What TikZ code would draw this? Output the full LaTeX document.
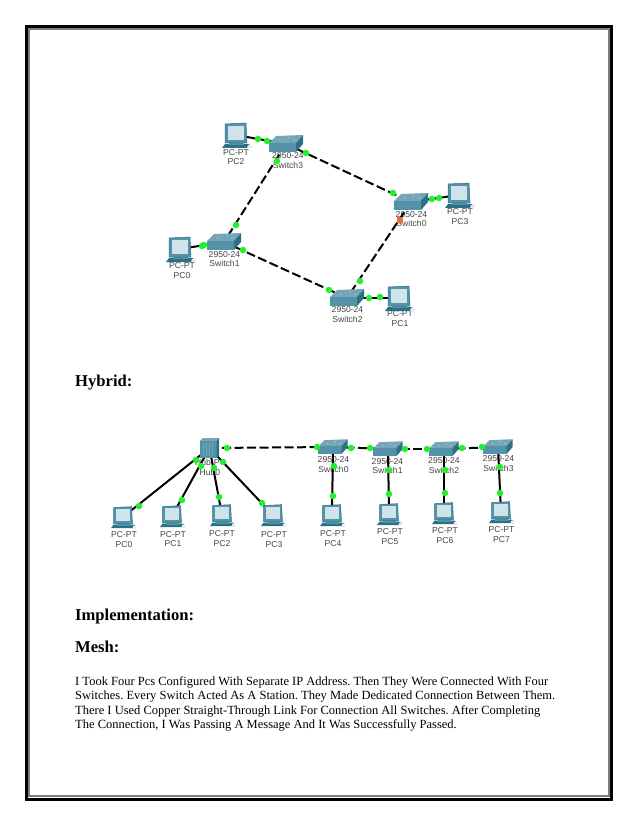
\documentclass[tikz,border=0pt]{standalone}
\usepackage{fontspec}
\setmainfont{Liberation Serif}
\setsansfont{Liberation Sans}
\usetikzlibrary{positioning}
\definecolor{portgreen}{RGB}{34,240,44}
\definecolor{portorange}{RGB}{240,110,50}
\definecolor{devtop}{RGB}{116,166,184}
\definecolor{devfront}{RGB}{84,146,168}
\definecolor{devside}{RGB}{44,112,134}
\definecolor{screenlight}{RGB}{208,226,234}
\definecolor{labelgray}{RGB}{70,70,70}
\definecolor{framegray}{RGB}{125,125,125}
\tikzset{
    pcicon/.pic={
        \fill[devside] (-14,13) -- (-11,9) -- (13,9) -- (15,13) -- cycle;
        \fill[white!80!devtop] (12,10) -- (16,10) -- (15,13) -- (11,13) -- cycle;
        \fill[devfront] (-7,7) rectangle (8,10);
        \fill[devfront, draw=devside, line width=.5pt] (-11,-11) -- (10,-12) -- (11,8) -- (-11,8) -- cycle;
        \fill[screenlight] (-8,-9) rectangle (8,5);
    },
    switchicon/.pic={
        \fill[devtop] (-17,-1) -- (-10,-8) -- (17,-9) -- (10,-1) -- cycle;
        \fill[devfront] (-17,-1) rectangle (10,8);
        \fill[devside] (10,-1) -- (17,-9) -- (17,0) -- (10,8) -- cycle;
        \fill[white!70!devtop] (-6,-4) circle (.7) (3,-6) circle (.7) (8,-4) circle (.7);
    },
    hubicon/.pic={
        \fill[devtop] (-9.5,-7) -- (-7,-10) -- (9.5,-10) -- (7,-7) -- cycle;
        \fill[devfront] (-9.5,-7) rectangle (7,10);
        \fill[devside] (7,-7) -- (9.5,-10) -- (9.5,8) -- (7,10) -- cycle;
        \foreach \gx in {-6,-3,0,3}
            \draw[devtop, line width=.6pt] (\gx,-5) -- (\gx,8);
    },
    devlabel/.style={font=\fontsize{8.6}{9.6}\selectfont\sffamily, text=labelgray, align=center, inner sep=0pt},
    portdot/.style={circle, fill=portgreen, inner sep=0pt, minimum size=6.5pt},
    portsquare/.style={rectangle, fill=portorange, inner sep=0pt, minimum size=5.5pt},
    cable/.style={black, line width=2pt},
    dashcable/.style={cable, dash pattern=on 9pt off 3.5pt},
    headtext/.style={font=\fontsize{16.6}{19}\selectfont\bfseries, anchor=base west, inner sep=0pt},
    bodytext/.style={font=\fontsize{12.5}{14.4}\selectfont\frenchspacing, anchor=north west, inner sep=0pt, align=left}
}
\begin{document}
\begin{tikzpicture}[x=1pt, y=-1pt]
    \useasboundingbox (0,0) rectangle (638,826);
    \fill[white] (0,0) rectangle (638,826);

    % page frame
    \draw[black, line width=3.2pt] (26.6,26.6) rectangle (611.5,799.2);
    \draw[framegray, line width=1.7pt] (29.1,29.1) rectangle (609,796.2);

    % device positions and labels, upper network
    \foreach \name/\x/\y/\lx/\ly/\txt in {
        tpc0/180/249/182/270.5/PC-PT\\PC0, tpc1/399/298/400/318.5/PC-PT\\PC1,
        tpc2/236/135/236/157/PC-PT\\PC2, tpc3/459/195/460/216.5/PC-PT\\PC3,
        tsw0/411/202/411.5/219/2950-24\\Switch0, tsw1/224/242/224.5/259/2950-24\\Switch1,
        tsw2/347/298/347.5/314.5/2950-24\\Switch2, tsw3/286/144/288/160.5/2950-24\\Switch3}{
        \coordinate (\name) at (\x,\y);
        \node[devlabel] (\name lab) at (\lx,\ly) {\txt};
    }

    % device positions and labels, lower network
    \foreach \name/\x/\y/\lx/\ly/\txt in {
        bhub/209.5/448/210/467.5/Hub-PT\\Hub0,
        bpc0/123/517/124/539.5/PC-PT\\PC0, bpc1/172/516/173/539/PC-PT\\PC1,
        bpc2/222/515/222/538.5/PC-PT\\PC2, bpc3/273/515/274/539.5/PC-PT\\PC3,
        bpc4/332/515/333/538.5/PC-PT\\PC4, bpc5/389/514/390/536.5/PC-PT\\PC5,
        bpc6/444/513/445/535.5/PC-PT\\PC6, bpc7/501/512/501.5/534.5/PC-PT\\PC7,
        bsw0/333/447/333.5/464.5/2950-24\\Switch0, bsw1/388/449/387.5/466/2950-24\\Switch1,
        bsw2/444/449/444/465.5/2950-24\\Switch2, bsw3/498/447/498.5/463.5/2950-24\\Switch3}{
        \coordinate (\name) at (\x,\y);
        \node[devlabel] (\name lab) at (\lx,\ly) {\txt};
    }

    % connections
    \foreach \a/\b in {tpc2/tsw3, tpc0/tsw1, tpc3/tsw0, tpc1/tsw2,
        bhub/bpc0, bhub/bpc1, bhub/bpc2, bhub/bpc3,
        bsw0/bpc4, bsw1/bpc5, bsw2/bpc6, bsw3/bpc7}
        \draw[cable] (\a) -- (\b);
    \foreach \a/\b in {tsw3/tsw1, tsw3/tsw0, tsw1/tsw2, tsw0/tsw2,
        bhub/bsw0, bsw0/bsw1, bsw1/bsw2, bsw2/bsw3}
        \draw[dashcable] (\a) -- (\b);

    % icons
    \foreach \name in {tpc0,tpc1,tpc2,tpc3}
        \pic at (\name) {pcicon};
    \foreach \name in {tsw0,tsw1,tsw2,tsw3}
        \pic at (\name) {switchicon};
    \foreach \name in {bpc0,bpc1,bpc2,bpc3,bpc4,bpc5,bpc6,bpc7}
        \pic[scale=.86] at (\name) {pcicon};
    \foreach \name in {bsw0,bsw1,bsw2,bsw3}
        \pic[scale=.86] at (\name) {switchicon};
    \pic at (bhub) {hubicon};

    % link lights
    \foreach \x/\y [count=\i] in {
        258/139, 267/141, 277/161, 236/225, 306/153, 393/193, 243/250, 329/290,
        360/281, 202/246, 204/245, 432/199, 439/198, 369/298, 380/297,
        196/460, 139/506, 201/466, 182/500, 214/468, 219/497, 223/462, 262/503,
        227/448, 317/447, 351/448, 370/448, 405/449, 427/449, 462/448, 482/447,
        334/466, 333/496, 389/470, 389/494, 445/470, 445/493, 500/467, 500/493}
        \node[portdot] (light\i) at (\x,\y) {};
    \node[portsquare] (lightamber) at (400,220) {};

    % document text
    \node[headtext] (hybridhead) at (75,386) {Hybrid:};
    \node[headtext] (implhead) at (75,620) {Implementation:};
    \node[headtext] (meshhead) at (75,652) {Mesh:};
    \node[bodytext] (meshtext) at (75,676.2) {I Took Four Pcs Configured With Separate IP Address. Then They Were Connected With Four\\
        Switches. Every Switch Acted As A Station. They Made Dedicated Connection Between Them.\\
        There I Used Copper Straight-Through Link For Connection All Switches. After Completing\\
        The Connection, I Was Passing A Message And It Was Successfully Passed.};
\end{tikzpicture}
\end{document}
